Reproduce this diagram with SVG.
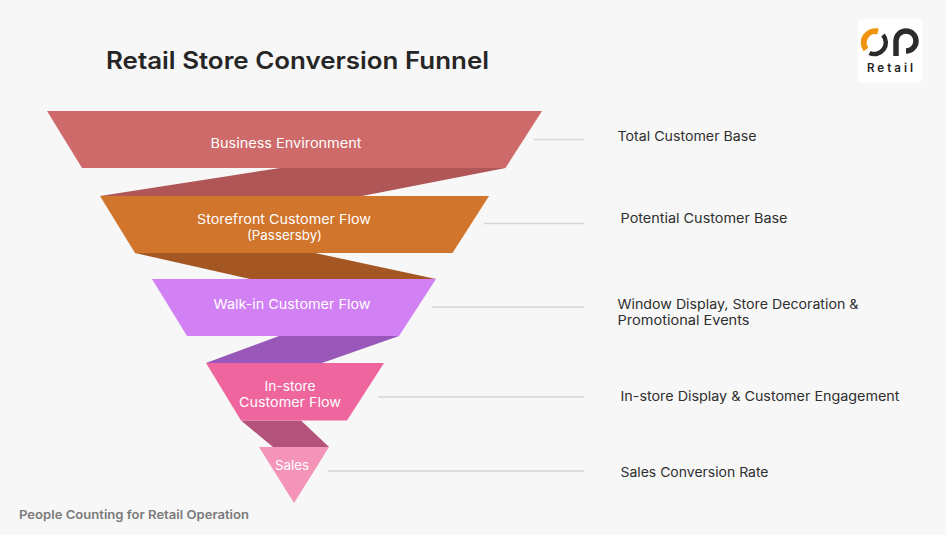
<svg xmlns="http://www.w3.org/2000/svg" width="946" height="535" viewBox="0 0 946 535">
<style>
text{font-family:"Inter","Noto Sans","Liberation Sans",sans-serif}
.n{font-size:13px;fill:#fff;text-anchor:middle}
.r{font-size:13px;fill:#2e2e2e}
.l{stroke:#d6d6d6;stroke-width:1.3;fill:none}
</style>
<rect width="946" height="535" fill="#f7f7f7"/>
<text x="106" y="69" font-size="24" font-weight="600" fill="#262626" textLength="383" lengthAdjust="spacingAndGlyphs">Retail Store Conversion Funnel</text>
<g id="connectors">
<path class="l" d="M534 139.500H584"/>
<path class="l" d="M484 223.500H584"/>
<path class="l" d="M432 307H584"/>
<path class="l" d="M378 397H584"/>
<path class="l" d="M328 471H584"/>
</g>
<g id="bands">
<polygon points="280,168 505.500,168 362,196 100,196" fill="#b05656"/>
<polygon points="135,253 315,253 436,279 250,279" fill="#a45723"/>
<polygon points="279,336 399,336 322,363 206,363" fill="#9857b9"/>
<polygon points="241,420.500 301,420.500 329,447 273,447" fill="#b3537c"/>
</g>
<g id="node-business">
<polygon points="47,111 542,111 505.500,168 82,168" fill="#cf6a6a"/>
<text class="n" x="286" y="148" textLength="151" lengthAdjust="spacingAndGlyphs">Business Environment</text>
</g>
<g id="node-storefront">
<polygon points="100,196 489,196 452.500,253 135,253" fill="#d1742c"/>
<text class="n" x="284" y="224" textLength="174" lengthAdjust="spacingAndGlyphs">Storefront Customer Flow</text>
<text class="n" x="284.500" y="240" textLength="75" lengthAdjust="spacingAndGlyphs">(Passersby)</text>
</g>
<g id="node-walkin">
<polygon points="152,279 436,279 399,336 187,336" fill="#d181f4"/>
<text class="n" x="292" y="309" textLength="157" lengthAdjust="spacingAndGlyphs">Walk-in Customer Flow</text>
</g>
<g id="node-instore">
<polygon points="206,363 384,363 347,420.500 241,420.500" fill="#ee669d"/>
<text class="n" x="290" y="391" textLength="51" lengthAdjust="spacingAndGlyphs">In-store</text>
<text class="n" x="290" y="407" textLength="102" lengthAdjust="spacingAndGlyphs">Customer Flow</text>
</g>
<g id="node-sales">
<polygon points="259,447 329,447 294,503" fill="#f394b8"/>
<text class="n" x="292" y="470" textLength="34" lengthAdjust="spacingAndGlyphs">Sales</text>
</g>
<g id="labels">
<text class="r" x="617.500" y="141" textLength="139" lengthAdjust="spacingAndGlyphs">Total Customer Base</text>
<text class="r" x="620.500" y="223" textLength="167" lengthAdjust="spacingAndGlyphs">Potential Customer Base</text>
<text class="r" x="617.500" y="309" textLength="241" lengthAdjust="spacingAndGlyphs">Window Display, Store Decoration &amp;</text>
<text class="r" x="617.500" y="325" textLength="132" lengthAdjust="spacingAndGlyphs">Promotional Events</text>
<text class="r" x="620.500" y="401" textLength="279" lengthAdjust="spacingAndGlyphs">In-store Display &amp; Customer Engagement</text>
<text class="r" x="620.500" y="477" textLength="148" lengthAdjust="spacingAndGlyphs">Sales Conversion Rate</text>
</g>
<text x="19" y="519" font-size="12" font-weight="600" fill="#7a7a7a" textLength="230" lengthAdjust="spacingAndGlyphs">People Counting for Retail Operation</text>
<g id="logo">
<rect x="858" y="19" width="64" height="64" rx="4" fill="#fff"/>
<path d="M866 49.500A11.500 11.500 0 0 1 878 31.500" fill="none" stroke="#f0930f" stroke-width="6"/>
<path d="M883 35A11.500 11.500 0 0 1 869.500 53" fill="none" stroke="#2b2b2b" stroke-width="4.500"/>
<path d="M896 56V41A10 10 0 1 1 906 51" fill="none" stroke="#2b2b2b" stroke-width="5.500"/>
<text x="867" y="72" font-size="11.500" font-weight="600" fill="#222" textLength="46" lengthAdjust="spacing">Retail</text>
</g>
</svg>
